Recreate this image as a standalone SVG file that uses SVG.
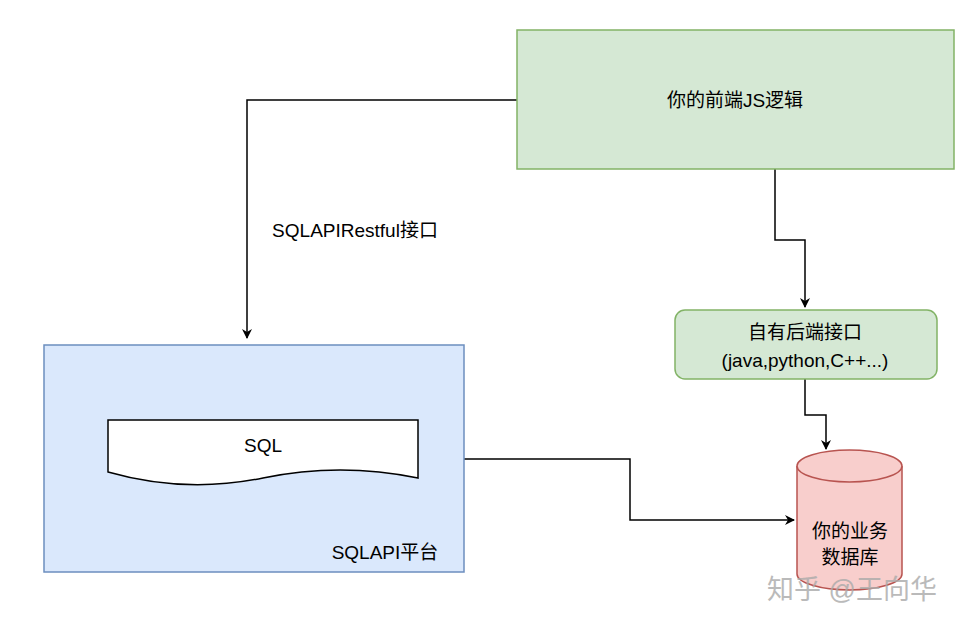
<svg xmlns="http://www.w3.org/2000/svg" width="967" height="627" viewBox="0 0 967 627">
<style>
text{font-family:"Liberation Sans","Noto Sans CJK SC",sans-serif;font-size:19px;fill:#000;text-anchor:middle;dominant-baseline:central}
.c{fill:none;stroke:#000;stroke-width:1.5}
</style>
<defs><marker id="a" viewBox="0 0 10 10" refX="9" refY="5" markerWidth="10" markerHeight="10" markerUnits="userSpaceOnUse" orient="auto"><path d="M0,0L10,5L0,10L3,5z" fill="#000"/></marker></defs>
<rect width="967" height="627" fill="#fff"/>
<g id="connectors">
<path class="c" d="M517,100H247V338" marker-end="url(#a)"/>
<path class="c" d="M775,169V240H805V307" marker-end="url(#a)"/>
<path class="c" d="M805,379V415H826V449" marker-end="url(#a)"/>
<path class="c" d="M464,459H630V520H794" marker-end="url(#a)"/>
<text x="355" y="230">SQLAPIRestful接口</text>
</g>
<g id="frontend"><rect x="517" y="30" width="437" height="139" fill="#d5e8d4" stroke="#82b366" stroke-width="1.5"/><text x="735" y="100">你的前端JS逻辑</text></g>
<g id="platform"><rect x="44" y="345" width="420" height="227" fill="#dae8fc" stroke="#6c8ebf" stroke-width="1.5"/><text x="385" y="552">SQLAPI平台</text></g>
<g id="sql"><path d="M108,420H418V478Q340,462 263,478Q185,494 108,472Z" fill="#fff" stroke="#000" stroke-width="1.5"/><text x="263" y="445">SQL</text></g>
<g id="backend"><rect x="675" y="310" width="262" height="69" rx="10" fill="#d5e8d4" stroke="#82b366" stroke-width="1.5"/><text x="805" y="332">自有后端接口</text><text x="805" y="360">(java,python,C++...)</text></g>
<g id="db"><path d="M797,466V574A52.5,16 0 0 0 902,574V466" fill="#f8cecc" stroke="#b85450" stroke-width="1.5"/><ellipse cx="849.5" cy="466" rx="52.5" ry="16" fill="#f8cecc" stroke="#b85450" stroke-width="1.5"/><text x="850" y="531">你的业务</text><text x="850" y="557">数据库</text></g>
<text x="852" y="590" style="font-size:27px;fill:#aaa;opacity:0.8">知乎 @王向华</text>
</svg>
